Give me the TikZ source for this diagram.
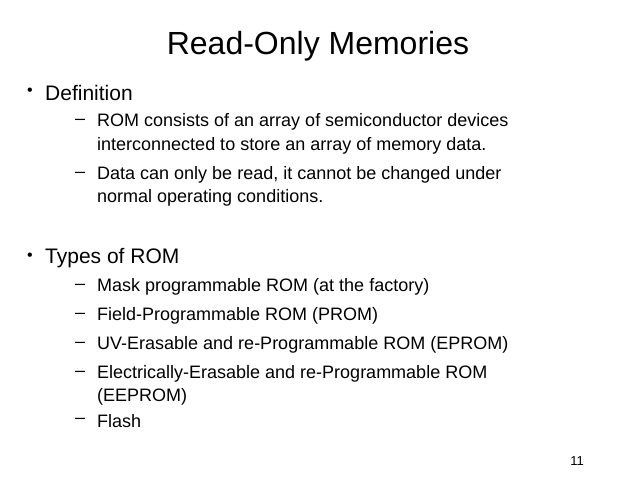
\documentclass[tikz,border=0pt]{standalone}
\usepackage{fontspec}
\setmainfont{Liberation Sans}
\usetikzlibrary{positioning}

\tikzset{
  bullettxt/.style={anchor=west, inner sep=0pt, font=\fontsize{21}{25}\selectfont},
  subtxt/.style={anchor=west, inner sep=0pt, font=\fontsize{18}{22}\selectfont},
  dashmark/.style={anchor=west, inner sep=0pt, font=\fontsize{18}{22}\selectfont}
}

\begin{document}
\begin{tikzpicture}[x=1pt, y=1pt]
    \useasboundingbox (0, 0) rectangle (638, 478);

    % Title
    \node[inner sep=0pt, font=\fontsize{32}{38}\selectfont] (title) at (318, 432) {Read-Only Memories};

    % Definition
    \node[bullettxt, font=\fontsize{16}{20}\selectfont] (b1) at (27, 386) {•};
    \node[bullettxt] (def) at (45, 385) {Definition};
    \node[dashmark] (d1) at (75, 356) {--};
    \node[subtxt] (s1) at (97, 356) {ROM consists of an array of semiconductor devices};
    \node[subtxt] (s1b) at (97, 332) {interconnected to store an array of memory data.};
    \node[dashmark] (d2) at (75, 303) {--};
    \node[subtxt] (s2) at (97, 303) {Data can only be read, it cannot be changed under};
    \node[subtxt] (s2b) at (97, 280) {normal operating conditions.};

    % Types of ROM
    \node[bullettxt, font=\fontsize{16}{20}\selectfont] (b2) at (27, 221) {•};
    \node[bullettxt] (types) at (45, 220) {Types of ROM};
    \node[dashmark] (d3) at (75, 191) {--};
    \node[subtxt] (t1) at (97, 191) {Mask programmable ROM (at the factory)};
    \node[dashmark] (d4) at (75, 162) {--};
    \node[subtxt] (t2) at (97, 162) {Field-Programmable ROM (PROM)};
    \node[dashmark] (d5) at (75, 133) {--};
    \node[subtxt] (t3) at (97, 133) {UV-Erasable and re-Programmable ROM (EPROM)};
    \node[dashmark] (d6) at (75, 104) {--};
    \node[subtxt] (t4) at (97, 104) {Electrically-Erasable and re-Programmable ROM};
    \node[subtxt] (t4b) at (97, 81) {(EEPROM)};
    \node[dashmark] (d7) at (75, 57) {--};
    \node[subtxt] (t5) at (97, 57) {Flash};

    % Page number
    \node[inner sep=0pt, font=\fontsize{13}{15}\selectfont] (page) at (577, 17) {11};
\end{tikzpicture}
\end{document}
